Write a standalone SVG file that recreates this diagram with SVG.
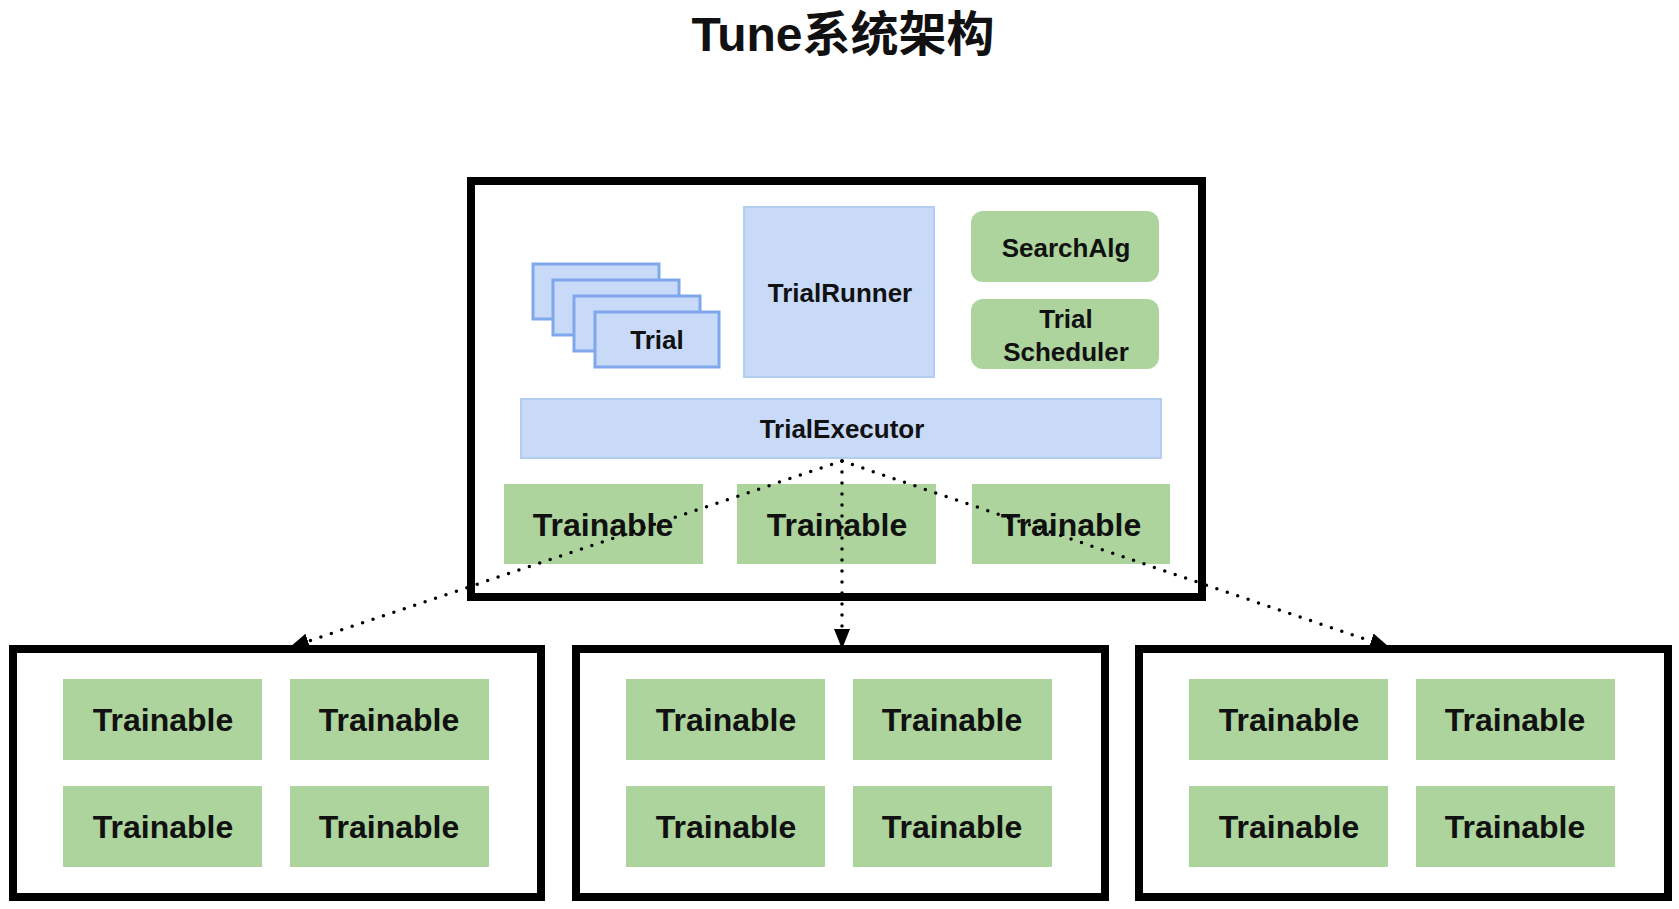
<svg xmlns="http://www.w3.org/2000/svg" width="1679" height="909" viewBox="0 0 1679 909">
<style>
.t{font-family:"Liberation Sans",Arial,sans-serif;font-weight:bold;fill:#111;text-anchor:middle;dominant-baseline:central}
.g{fill:#acd49c}
.b{fill:#c9daf8;stroke:#b3cdf0;stroke-width:2}
.c{fill:#c9daf8;stroke:#7fa8ec;stroke-width:3}
.box{fill:#fff;stroke:#000;stroke-width:8}
.d{stroke:#000;stroke-width:3.5;stroke-dasharray:0 11;stroke-linecap:round;fill:none}
</style>
<defs>
<marker id="ah" viewBox="0 0 10 10" refX="9" refY="5" markerWidth="20" markerHeight="20" orient="auto" markerUnits="userSpaceOnUse"><path d="M0,1L10,5L0,9z" fill="#000"/></marker></defs>
<rect width="1679" height="909" fill="#fff"/>
<text class="t" x="843" y="34" style="font-size:48px;font-family:'Liberation Sans','Noto Sans CJK SC',sans-serif">Tune系统架构</text>
<g id="head"><rect class="box" x="471" y="181" width="731" height="416"/></g>
<g id="trials">
<rect class="c" x="533" y="264" width="126" height="55"/>
<rect class="c" x="553" y="280" width="126" height="55"/>
<rect class="c" x="574" y="296" width="126" height="55"/>
<rect class="c" x="595" y="312" width="124" height="55"/>
<text class="t" x="657" y="340" style="font-size:26px">Trial</text></g>
<g id="runner"><rect class="b" x="744" y="207" width="190" height="170"/><text class="t" x="840" y="293" style="font-size:26px">TrialRunner</text></g>
<g id="search"><rect class="g" x="971" y="211" width="188" height="71" rx="12"/><text class="t" x="1066" y="248" style="font-size:26px">SearchAlg</text></g>
<g id="sched"><rect class="g" x="971" y="299" width="188" height="70" rx="12"/><text class="t" x="1066" y="319" style="font-size:26px">Trial</text><text class="t" x="1066" y="352" style="font-size:26px">Scheduler</text></g>
<g id="executor"><rect class="b" x="521" y="399" width="640" height="59"/><text class="t" x="842" y="429" style="font-size:26px">TrialExecutor</text></g>
<g id="tr-head" style="font-size:32px">
<rect class="g" x="504" y="484" width="199" height="80"/><text class="t" x="603" y="525">Trainable</text>
<rect class="g" x="737" y="484" width="199" height="80"/><text class="t" x="837" y="525">Trainable</text>
<rect class="g" x="972" y="484" width="198" height="80"/><text class="t" x="1071" y="525">Trainable</text></g>
<g id="worker1"><rect class="box" x="13" y="649" width="528" height="248"/>
<g style="font-size:32px"><rect class="g" x="63" y="679" width="199" height="81"/><text class="t" x="163" y="720">Trainable</text>
<rect class="g" x="290" y="679" width="199" height="81"/><text class="t" x="389" y="720">Trainable</text>
<rect class="g" x="63" y="786" width="199" height="81"/><text class="t" x="163" y="827">Trainable</text>
<rect class="g" x="290" y="786" width="199" height="81"/><text class="t" x="389" y="827">Trainable</text></g></g>
<g id="worker2"><rect class="box" x="576" y="649" width="529" height="248"/>
<g style="font-size:32px"><rect class="g" x="626" y="679" width="199" height="81"/><text class="t" x="726" y="720">Trainable</text>
<rect class="g" x="853" y="679" width="199" height="81"/><text class="t" x="952" y="720">Trainable</text>
<rect class="g" x="626" y="786" width="199" height="81"/><text class="t" x="726" y="827">Trainable</text>
<rect class="g" x="853" y="786" width="199" height="81"/><text class="t" x="952" y="827">Trainable</text></g></g>
<g id="worker3"><rect class="box" x="1139" y="649" width="529" height="248"/>
<g style="font-size:32px"><rect class="g" x="1189" y="679" width="199" height="81"/><text class="t" x="1289" y="720">Trainable</text>
<rect class="g" x="1416" y="679" width="199" height="81"/><text class="t" x="1515" y="720">Trainable</text>
<rect class="g" x="1189" y="786" width="199" height="81"/><text class="t" x="1289" y="827">Trainable</text>
<rect class="g" x="1416" y="786" width="199" height="81"/><text class="t" x="1515" y="827">Trainable</text></g></g>
<g id="connectors">
<path class="d" d="M842,461L291,647" marker-end="url(#ah)"/>
<path class="d" d="M842,461L842,647" marker-end="url(#ah)"/>
<path class="d" d="M842,461L1388,647" marker-end="url(#ah)"/>
</g>
</svg>
